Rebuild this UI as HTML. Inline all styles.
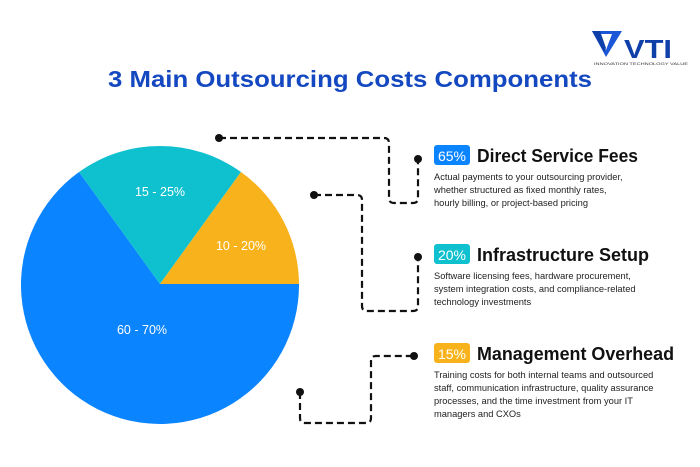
<!DOCTYPE html>
<html><head><meta charset="utf-8"><style>
html,body{margin:0;padding:0;background:#fff;width:700px;height:467px;overflow:hidden}
svg{display:block;font-family:"Liberation Sans",sans-serif}
</style></head><body>
<svg width="700" height="467" viewBox="0 0 700 467">
<!-- logo -->
<polygon points="592,31 622,31 606,57" fill="#1a56d6"/>
<polygon points="597,34 612,34 606,50" fill="#fff"/>
<polygon points="592,31 600,31 606,48 604,52" fill="#0f3fa8"/>
<text x="624" y="58" font-size="26" font-weight="bold" fill="#0f3fa8" textLength="48" lengthAdjust="spacingAndGlyphs">VTI</text>
<text x="594" y="65" font-size="3.5" fill="#333" textLength="94" lengthAdjust="spacingAndGlyphs">INNOVATION TECHNOLOGY VALUE</text>
<!-- title -->
<text x="108" y="87" font-size="23" font-weight="bold" fill="#1448c0" textLength="484" lengthAdjust="spacingAndGlyphs">3 Main Outsourcing Costs Components</text>
<!-- pie -->
<path d="M160,284 L299,284 A139,139 0 1 1 79,172 Z" fill="#0a84ff"/>
<path d="M160,284 L79,172 A139,139 0 0 1 241,172 Z" fill="#0fc0cf"/>
<path d="M160,284 L241,172 A139,139 0 0 1 299,284 Z" fill="#f8b31c"/>
<g fill="#fff" font-size="12.5" text-anchor="middle">
<text x="160" y="196">15 - 25%</text>
<text x="241" y="250">10 - 20%</text>
<text x="142" y="334">60 - 70%</text>
</g>
<!-- connectors -->
<g fill="none" stroke="#111" stroke-width="2.2" stroke-dasharray="7,4">
<path d="M219,138 H384 Q389,138 389,143 V198 Q389,203 394,203 H413 Q418,203 418,198 V159"/>
<path d="M314,195 H357 Q362,195 362,200 V306 Q362,311 367,311 H413 Q418,311 418,306 V257"/>
<path d="M300,392 V418 Q300,423 305,423 H366 Q371,423 371,418 V361 Q371,356 376,356 H414"/>
</g>
<g fill="#111">
<circle cx="219" cy="138" r="4"/><circle cx="418" cy="159" r="4"/>
<circle cx="314" cy="195" r="4"/><circle cx="418" cy="257" r="4"/>
<circle cx="300" cy="392" r="4"/><circle cx="414" cy="356" r="4"/>
</g>
<!-- items -->
<rect x="434" y="145" width="36" height="20" rx="3" fill="#0a84ff"/>
<text x="452" y="161" font-size="14" fill="#fff" text-anchor="middle">65%</text>
<text x="477" y="162" font-size="18" font-weight="bold" fill="#111" textLength="161" lengthAdjust="spacingAndGlyphs">Direct Service Fees</text>
<g font-size="9.3" fill="#222">
<text x="434" y="180"> Actual payments to your outsourcing provider,</text>
<text x="434" y="193">whether structured as fixed monthly rates,</text>
<text x="434" y="206">hourly billing, or project-based pricing</text>
</g>
<rect x="434" y="244" width="36" height="20" rx="3" fill="#0fc0cf"/>
<text x="452" y="260" font-size="14" fill="#fff" text-anchor="middle">20%</text>
<text x="477" y="261" font-size="18" font-weight="bold" fill="#111" textLength="172" lengthAdjust="spacingAndGlyphs">Infrastructure Setup</text>
<g font-size="9.3" fill="#222">
<text x="434" y="279">Software licensing fees, hardware procurement,</text>
<text x="434" y="292">system integration costs, and compliance-related</text>
<text x="434" y="305">technology investments</text>
</g>
<rect x="434" y="343" width="36" height="20" rx="3" fill="#f8b31c"/>
<text x="452" y="359" font-size="14" fill="#fff" text-anchor="middle">15%</text>
<text x="477" y="360" font-size="18" font-weight="bold" fill="#111" textLength="197" lengthAdjust="spacingAndGlyphs">Management Overhead</text>
<g font-size="9.3" fill="#222">
<text x="434" y="378">Training costs for both internal teams and outsourced</text>
<text x="434" y="391">staff, communication infrastructure, quality assurance</text>
<text x="434" y="404">processes, and the time investment from your IT</text>
<text x="434" y="417">managers and CXOs</text>
</g>
</svg>
</body></html>
